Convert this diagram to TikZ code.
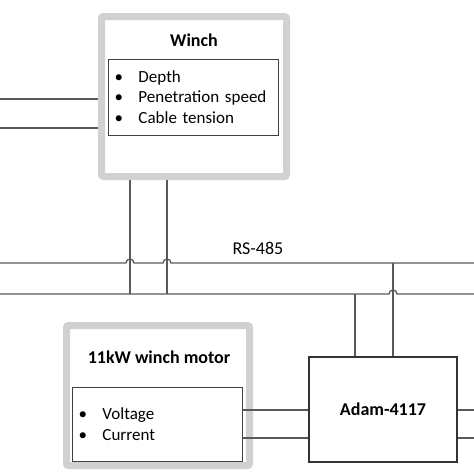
\documentclass[tikz,border=0pt]{standalone}
\usepackage{fontspec}
\setmainfont{Carlito}
\usetikzlibrary{positioning,calc}

\begin{document}
\begin{tikzpicture}[x=1pt,y=-1pt]
            \tikzset{
              outerbox/.style={draw=black!18, line width=7pt, rounded corners=2pt, minimum width=#1},
              listbox/.style={draw=black!75, line width=1pt, align=left, inner xsep=6pt, text width=158pt,
                font=\fontsize{17}{20.5}\selectfont},
              unitbox/.style={draw=black!80, line width=1.2pt, minimum width=148pt, minimum height=105pt,
                font=\fontsize{18}{20}\selectfont\bfseries},
              title/.style={font=\fontsize{18}{20}\selectfont\bfseries},
              wire/.style={draw=black!65, line width=1.3pt},
            }
            \newcommand{\itm}[1]{\makebox[24pt][l]{\textbullet}#1}
            \useasboundingbox (0,0) rectangle (474,474);

            % winch
            \node[outerbox=185pt, minimum height=160pt] (W) at (194,96.5) {};
            \node[title] (Wt) at (194,40) {Winch};
            \node[listbox, minimum height=76pt] (Wl) at (193.5,97) {\itm{Depth}\\\itm{Penetration speed}\\\itm{Cable tension}};

            % motor
            \node[outerbox=183pt, minimum height=140pt] (M) at (158,395.5) {};
            \node[title] (Mt) at (159,357) {11kW winch motor};
            \node[listbox, minimum height=74pt] (Ml) at (157.5,424) {\itm{Voltage}\\\itm{Current}};

            % adam
            \node[unitbox] (A) at (383,409.5) {Adam-4117};

            \node[font=\fontsize{18}{20}\selectfont] (rs) at (258,248) {RS-485};

            % bus lines with hops
            \coordinate (b1l) at (0,263);
            \coordinate (b1r) at (474,263);
            \coordinate (b2l) at (0,294);
            \coordinate (b2r) at (474,294);
            \draw[wire] (b1l) -- (126,263) arc (180:0:4pt) -- (163,263) arc (180:0:4pt) -- (b1r);
            \draw[wire] (b2l) -- (389,294) arc (180:0:4pt) -- (b2r);

            % winch wires
            \draw[wire] (0,99) -- (W.west |- 0,99);
            \draw[wire] (0,128) -- (W.west |- 0,128);
            \draw[wire] (W.south -| 130,0) -- (130,294);
            \draw[wire] (W.south -| 167,0) -- (167,294);

            % adam wires
            \draw[wire] (A.north -| 355,0) -- (355,294);
            \draw[wire] (A.north -| 393,0) -- (393,263);
            \draw[wire] (Ml.east |- 0,410) -- (A.west |- 0,410);
            \draw[wire] (Ml.east |- 0,438) -- (A.west |- 0,438);
            \draw[wire] (A.east |- 0,410) -- (474,410);
            \draw[wire] (A.east |- 0,438) -- (474,438);
          \end{tikzpicture}
\end{document}
